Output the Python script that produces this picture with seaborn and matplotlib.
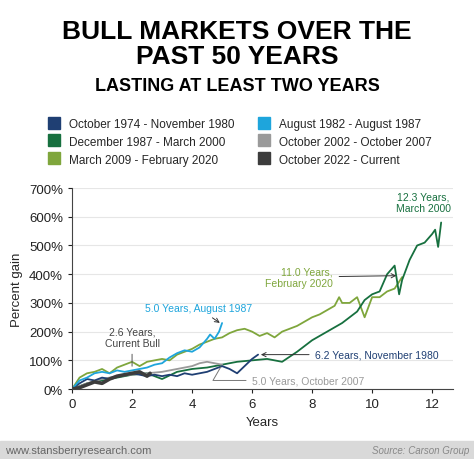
import matplotlib
matplotlib.use('Agg')
import matplotlib.pyplot as plt
import seaborn as sns
import pandas as pd
from matplotlib.lines import Line2D

# series (years since start, percent gain)
navy_x = [0, 0.25, 0.5, 0.75, 1, 1.25, 1.5, 1.75, 2, 2.25, 2.5, 2.75, 3, 3.25, 3.5, 3.75, 4, 4.25, 4.5, 4.75, 5, 5.25, 5.5, 5.75, 6, 6.2]
navy_y = [0, 20, 35, 30, 40, 35, 45, 50, 55, 50, 45, 50, 45, 50, 45, 55, 50, 55, 60, 70, 80, 70, 55, 80, 105, 120]
blue_x = [0, 0.25, 0.5, 0.75, 1, 1.25, 1.5, 1.75, 2, 2.25, 2.5, 2.75, 3, 3.25, 3.5, 3.75, 4, 4.25, 4.5, 4.6, 4.75, 4.9, 5]
blue_y = [0, 30, 40, 55, 60, 55, 65, 60, 65, 70, 75, 85, 90, 110, 125, 135, 130, 145, 175, 190, 175, 200, 230]
green_x = [0, 0.5, 1, 1.5, 2, 2.5, 3, 3.5, 4, 4.5, 5, 5.5, 6, 6.5, 7, 7.5, 8, 8.5, 9, 9.5, 9.75, 10, 10.25, 10.5, 10.75, 10.9, 11, 11.25, 11.5, 11.75, 12, 12.1, 12.2, 12.3]
green_y = [0, 20, 30, 40, 50, 55, 35, 60, 70, 75, 85, 95, 100, 105, 95, 130, 170, 200, 230, 270, 310, 330, 340, 400, 430, 330, 380, 450, 500, 510, 540, 555, 495, 580]
olive_x = [0, 0.25, 0.5, 0.75, 1, 1.25, 1.5, 1.75, 2, 2.25, 2.5, 2.75, 3, 3.25, 3.5, 3.75, 4, 4.25, 4.5, 4.75, 5, 5.25, 5.5, 5.75, 6, 6.25, 6.5, 6.75, 7, 7.25, 7.5, 7.75, 8, 8.25, 8.5, 8.75, 8.9, 9, 9.25, 9.5, 9.75, 10, 10.25, 10.5, 10.75, 11]
olive_y = [0, 40, 55, 60, 70, 55, 75, 85, 95, 80, 95, 100, 105, 100, 120, 130, 140, 155, 165, 175, 180, 195, 205, 210, 200, 185, 195, 180, 200, 210, 220, 235, 250, 260, 275, 290, 320, 300, 300, 320, 250, 320, 320, 340, 350, 390]
gray_x = [0, 0.5, 1, 1.5, 2, 2.5, 3, 3.25, 3.5, 3.75, 4, 4.25, 4.5, 4.75, 5]
gray_y = [0, 20, 35, 45, 50, 55, 60, 65, 70, 75, 80, 90, 95, 90, 85]
dark_x = [0, 0.25, 0.5, 0.75, 1, 1.25, 1.5, 1.75, 2, 2.25, 2.5, 2.6]
dark_y = [0, 5, 15, 25, 20, 35, 45, 50, 55, 60, 45, 55]

labels = ['October 1974 - November 1980', 'August 1982 - August 1987',
          'December 1987 - March 2000', 'October 2002 - October 2007',
          'March 2009 - February 2020', 'October 2022 - Current']
colors = ['#1f3f73', '#1ea5dc', '#17703f', '#9a9a9a', '#7fa63c', '#3c3c3c']
xs = [navy_x, blue_x, green_x, gray_x, olive_x, dark_x]
ys = [navy_y, blue_y, green_y, gray_y, olive_y, dark_y]

frames = [pd.DataFrame({'years': x, 'gain': y, 'market': l}) for x, y, l in zip(xs, ys, labels)]
df = pd.concat(frames)

sns.set_style('white')
plt.rcParams['font.family'] = ['Liberation Sans', 'DejaVu Sans']
fig = plt.figure(figsize=(4.74, 4.6), dpi=100)
ax = fig.add_axes([0.152, 0.152, 0.804, 0.437])

for i in [4, 2, 3, 0, 1, 5]:
    sub = df[df.market == labels[i]]
    sns.lineplot(data=sub, x='years', y='gain', color=colors[i], ax=ax,
                 linewidth=2.6 if i == 5 else 1.3, legend=False)

ax.set_xlim(0, 12.7)
ax.set_ylim(0, 700)
ax.set_xticks(range(0, 13, 2))
ax.set_yticks(range(0, 701, 100))
ax.set_yticklabels([f'{v}%' for v in range(0, 701, 100)])
ax.yaxis.grid(True, color='#e6e6e6', linewidth=0.8)
for s in ['top', 'right']:
    ax.spines[s].set_visible(False)
ax.spines['left'].set_color('#444444')
ax.spines['bottom'].set_color('#444444')
ax.tick_params(labelsize=9.5, length=3, left=True, bottom=True, colors='#222222')
ax.set_xlabel('Years', fontsize=9.5)
ax.set_ylabel('Percent gain', fontsize=9.5)

ax.annotate('12.3 Years,\nMarch 2000', (12.3, 580), xytext=(11.7, 620), ha='center', fontsize=7.5, color=colors[2])
ax.annotate('11.0 Years,\nFebruary 2020', (10.9, 395), xytext=(8.7, 390), ha='right', va='center', fontsize=7.5,
            color=colors[4], arrowprops=dict(arrowstyle='->', color='#333333', lw=0.7))
ax.annotate('5.0 Years, August 1987', (5.0, 225), xytext=(4.2, 272), ha='center', fontsize=7.5,
            color=colors[1], arrowprops=dict(arrowstyle='->', color='#333333', lw=0.7))
ax.annotate('2.6 Years,\nCurrent Bull', (2.0, 70), xytext=(2.0, 180), ha='center', va='center', fontsize=7.5,
            color='#444444', arrowprops=dict(arrowstyle='-', color='#555555', lw=0.7))
ax.annotate('6.2 Years, November 1980', (6.2, 120), xytext=(8.1, 120), va='center', fontsize=7.5,
            color=colors[0], arrowprops=dict(arrowstyle='->', color='#333333', lw=0.7))
ax.annotate('5.0 Years, October 2007', (5.0, 85), xytext=(6.0, 30), va='center', fontsize=7.5,
            color=colors[3], arrowprops=dict(arrowstyle='-', color='#777777', lw=0.7, connectionstyle='angle,angleA=0,angleB=60'))

fig.text(0.5, 0.957, 'BULL MARKETS OVER THE\nPAST 50 YEARS', ha='center', va='top', fontsize=19,
         fontweight='bold', color='black', linespacing=1.05)
fig.text(0.5, 0.83, 'LASTING AT LEAST TWO YEARS', ha='center', va='top', fontsize=13,
         fontweight='bold', color='black')

# row-wise legend order
leg_order = [0, 2, 4, 1, 3, 5]
handles = [Line2D([], [], marker='s', linestyle='', markersize=9, color=colors[i]) for i in leg_order]
fig.legend(handles, [labels[i] for i in leg_order], loc='upper center', bbox_to_anchor=(0.5, 0.765), ncol=2,
           frameon=False, fontsize=8.5, handletextpad=0.3, columnspacing=1.5, labelspacing=0.5)

fig.patches.append(plt.Rectangle((0, 0), 1, 0.04, transform=fig.transFigure, color='#d9d9d9', zorder=-1))
fig.text(0.01, 0.02, 'www.stansberryresearch.com', fontsize=8, color='#666666', va='center')
fig.text(0.99, 0.02, 'Source: Carson Group', fontsize=7, color='#888888', va='center', ha='right', style='italic')

fig.savefig('out.png', dpi=100)
